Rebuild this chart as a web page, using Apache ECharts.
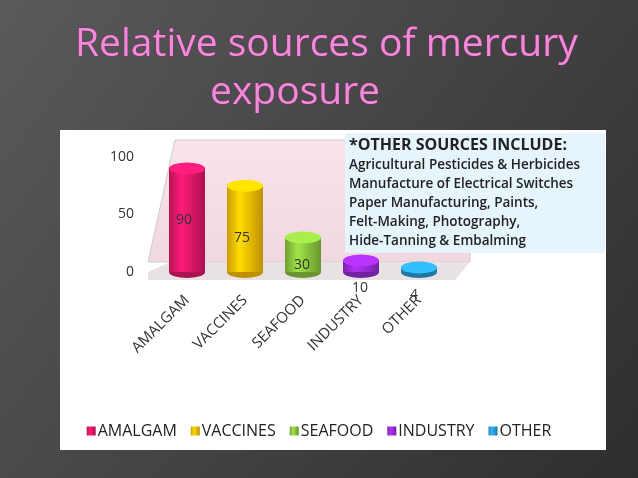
<!DOCTYPE html>
<html><head><meta charset="utf-8">
<script src="https://cdn.jsdelivr.net/npm/echarts@6/dist/echarts.min.js"></script>
<style>html,body{margin:0;padding:0;background:#444}#c{width:638px;height:478px}</style>
</head><body><div id="c"></div>
<script>
var categories = ['AMALGAM', 'VACCINES', 'SEAFOOD', 'INDUSTRY', 'OTHER'];
var values = [90, 75, 30, 10, 4];
var colors = ['#e3186a', '#ffc000', '#8cc63f', '#9a2bd8', '#2a9fd8'];
var yTicks = [0, 50, 100];
var noteLines = ['*OTHER SOURCES INCLUDE:', 'Agricultural Pesticides & Herbicides', 'Manufacture of Electrical Switches',
  'Paper Manufacturing, Paints,', 'Felt-Making, Photography,', 'Hide-Tanning & Embalming'];

var chart = echarts.init(document.getElementById('c'));

function shade(c, f) {
  var n = parseInt(c.slice(1), 16), r = n >> 16, g = (n >> 8) & 255, b = n & 255;
  r = Math.round(r * f); g = Math.round(g * f); b = Math.round(b * f);
  return 'rgb(' + Math.min(r,255) + ',' + Math.min(g,255) + ',' + Math.min(b,255) + ')';
}

var series = [];
categories.forEach(function (name, i) {
  var d = categories.map(function (_, j) { return j === i ? values[i] : null; });
  series.push({
    name: name, type: 'bar', data: d, barWidth: 36, barGap: '-100%',
    itemStyle: {
      color: new echarts.graphic.LinearGradient(0, 0, 1, 0, [
        { offset: 0, color: shade(colors[i], 0.8) },
        { offset: 0.35, color: shade(colors[i], 1.15) },
        { offset: 1, color: shade(colors[i], 0.75) }])
    },
    label: { show: true, position: 'insideTopLeft', offset: values[i] > 50 ? [2, 40] : [4, 16], color: '#333', fontSize: 14, fontFamily: 'Open Sans', z: 20 }
  });
  series.push({
    name: name, type: 'pictorialBar', data: d, symbol: 'circle', symbolSize: [36, 12],
    symbolPosition: 'end', symbolOffset: [0, '-50%'], z: 5,
    itemStyle: { color: shade(colors[i], 1.2) }
  });
  series.push({
    name: name, type: 'pictorialBar', data: d, symbol: 'circle', symbolSize: [36, 12],
    symbolOffset: [0, '50%'], z: 1, itemStyle: { color: shade(colors[i], 0.75) }
  });
});

var noteText = noteLines.map(function (l, i) { return i === 0 ? '{h|' + l + '}' : '{t|' + l + '}'; }).join('\n');
var titleStyle = { color: '#f08bd8', fontSize: 39, fontWeight: 'normal', fontFamily: 'Open Sans',
  textBorderColor: '#7a2a6a', textBorderWidth: 1 };

chart.setOption({
  backgroundColor: new echarts.graphic.LinearGradient(0, 0, 1, 1, [
    { offset: 0, color: '#5a5a5a' }, { offset: 1, color: '#2e2e2e' }]),
  title: [
    { text: 'Relative sources of mercury', left: 70, top: 20, textStyle: titleStyle },
    { text: 'exposure', left: 205, top: 68, textStyle: titleStyle }
  ],
  graphic: [
    { type: 'rect', shape: { x: 60, y: 130, width: 546, height: 320 }, style: { fill: '#fff' }, z: -10 },
    { type: 'polygon', shape: { points: [[148, 262], [175, 140], [470, 140], [470, 262]] },
      style: { fill: new echarts.graphic.LinearGradient(0, 0, 0, 1, [{ offset: 0, color: '#fbe3ea' }, { offset: 1, color: '#f0d8de' }]), stroke: '#ccc' }, z: -9 },
    { type: 'polygon', shape: { points: [[148, 272], [170, 262], [470, 262], [455, 280], [148, 280]] },
      style: { fill: '#e8e2e4' }, z: -9 },
    { type: 'rect', shape: { x: 345, y: 133, width: 260, height: 120 }, style: { fill: '#e6f4fb' }, z: 10 },
    { type: 'text', x: 349, y: 134, z: 11, style: { text: noteText, fill: '#222', fontFamily: 'Open Sans',
      rich: { h: { fontSize: 16, fontWeight: 'bold', lineHeight: 22, fontFamily: 'Open Sans' },
              t: { fontSize: 13.5, fontWeight: 600, lineHeight: 19, fontFamily: 'Open Sans' } } } }
  ],
  legend: {
    data: categories, bottom: 34, left: 'center', icon: 'rect', itemWidth: 9, itemHeight: 9, itemGap: 14,
    textStyle: { color: '#222', fontSize: 16, fontFamily: 'Open Sans', padding: [0, 0, 0, -3] }
  },
  grid: { left: 158, width: 290, top: 157, bottom: 206 },
  xAxis: {
    type: 'category', data: categories,
    axisLine: { show: false }, axisTick: { show: false },
    axisLabel: { rotate: 45, color: '#333', fontSize: 15, fontFamily: 'Open Sans', margin: 26 }
  },
  yAxis: {
    type: 'value', min: yTicks[0], max: yTicks[2], interval: 50,
    axisLabel: { color: '#333', fontSize: 14, fontFamily: 'Open Sans', margin: 24 },
    splitLine: { show: false }, axisLine: { show: false }
  },
  series: series
});
</script></body></html>
